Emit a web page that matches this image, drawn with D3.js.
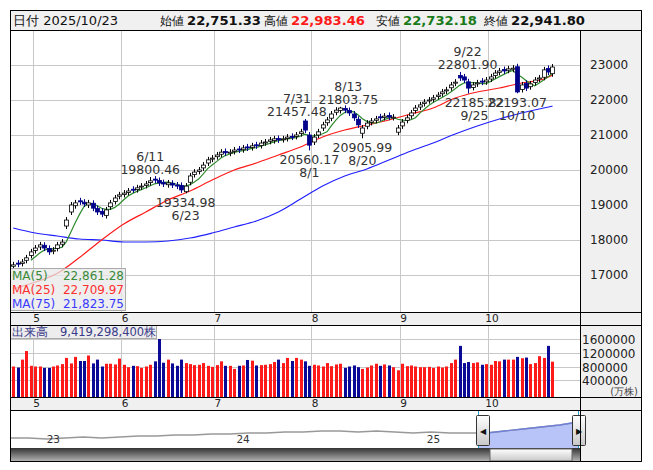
<!DOCTYPE html>
<html><head><meta charset="utf-8">
<script src="https://cdn.jsdelivr.net/npm/d3@7"></script>
<style>body{margin:0;background:#fff}svg{display:block;font-family:"DejaVu Sans",sans-serif}</style>
</head><body><div id="chart"></div>
<script>
const W = 653, H = 470;

// trading-day calendar (categories)
const holidays = ["2025-04-29","2025-05-05","2025-05-06","2025-07-21","2025-08-11","2025-09-15","2025-09-23","2025-10-13"];
const dates = d3.timeDay.range(new Date(2025, 3, 24), new Date(2025, 9, 24))
  .filter(d => d.getDay() !== 0 && d.getDay() !== 6 && !holidays.includes(d3.timeFormat("%Y-%m-%d")(d)));

const closes = [17290,17310,17370,17490,17660,17770,17860,17770,17660,17710,17860,17940,18570,19000,19060,19090,19030,19060,18910,18800,18740,18860,19060,19200,
19290,19340,19400,19430,19490,19540,19600,19690,19710,19630,19600,19630,19570,19540,19430,19540,19830,19940,20000,20140,20290,
20340,20430,20510,20490,20510,20570,20570,20630,20630,20690,20690,20770,20800,20860,20890,20860,20890,20940,20940,21000,21090,21140,
20710,20940,21090,21290,21430,21600,21710,21770,21710,21630,21490,21290,21200,21340,21400,21460,21490,21540,21510,21510,
21200,21370,21490,21630,21770,21860,21940,22000,22060,22140,22230,22290,22430,22510,22630,22570,22340,22430,22490,22510,
22570,22660,22770,22830,22830,22890,22910,22230,22430,22340,22460,22570,22630,22860,22800,22941.8];
const opens = [17250,17340,17330,17420,17560,17700,17800,17850,17760,17680,17760,17880,18400,18800,18980,19120,19080,19000,19050,18900,18820,18700,18950,19100,
19250,19300,19360,19450,19440,19520,19560,19640,19740,19700,19640,19580,19620,19570,19560,19380,19650,19870,19960,20060,20200,
20310,20380,20450,20530,20480,20530,20600,20580,20660,20640,20720,20700,20780,20820,20840,20900,20870,20900,20960,20960,21040,21400,
21000,20800,21000,21200,21350,21480,21650,21700,21760,21700,21600,21450,21050,21250,21360,21420,21520,21500,21560,21500,
21080,21260,21420,21550,21700,21800,21900,21980,22020,22100,22180,22260,22350,22480,22700,22660,22520,22360,22460,22540,
22520,22600,22700,22790,22870,22850,22880,22950,22300,22480,22380,22500,22600,22650,22900,22751.33];
const volumes = [800,770,1000,1250,820,800,800,760,760,800, 830,870,1050,890,1080,960,960,1120,890,1000,
800,880,880,860,1030,850,780,820,810,760, 800,850,950,1600,910,1000,890,820,1000,900,
870,840,850,900,820,790,840,950,820,820, 730,820,830,990,970,830,840,850,870,930,
1000,900,1050,960,1050,1000,950,820,850,830, 800,900,810,860,880,760,800,830,780,730,
770,830,880,820,860,830,780,690,880,810, 830,800,780,780,790,760,800,770,800,900,
1000,1400,900,930,900,920,850,870,850,960, 950,1000,1000,1000,1080,1040,1060,870,900,1100,
1050,1400,940].map(v => v * 1000);

// moving averages read every 5 trading days
const maIdx = [0,5,10,15,20,25,30,35,40,45,50,55,60,65,70,75,80,85,90,95,100,105,110,115,120,122];
const ma25 = [16600,16800,17050,17500,18000,18457,18800,19143,19400,19714,20000,20200,20429,20657,20943,21143,21286,21429,21600,21771,22057,22229,22343,22486,22600,22710];
const ma75 = [18343,18200,18114,18029,18000,17943,17943,17971,18057,18200,18371,18543,18800,19171,19543,19829,20029,20286,20543,20771,21029,21257,21457,21629,21771,21823];

const annotations = [
  {i:31, v:19800.46, d:"6/11", hi:true},
  {i:39, v:19334.98, d:"6/23", hi:false},
  {i:66, v:21457.48, d:"7/31", hi:true, dx:-8},
  {i:67, v:20560.17, d:"8/1", hi:false},
  {i:74, v:21803.75, d:"8/13", hi:true, dx:8},
  {i:79, v:20905.99, d:"8/20", hi:false},
  {i:101, v:22801.90, d:"9/22", hi:true, dx:8},
  {i:103, v:22185.82, d:"9/25", hi:false, dx:6},
  {i:114, v:22193.07, d:"10/10", hi:false}
];
const priceTicks = [17000,18000,19000,20000,21000,22000,23000];
const volTicks = [400000,800000,1200000,1600000];
const navValues = [17200,17200,16900,17200,17500,17200,17500,17800,17800,18100,18100,18400,18400,18700,18700,19000,19000,19300,19300,19000,19300,19000,18700,19000,18700,18700,18700,19300,19900,20500,21100,22000];
const navYears = [{t:"23", x:0.076},{t:"24", x:0.409},{t:"25", x:0.743}];
const header = {date:"2025/10/23", open:"22,751.33", high:"22,983.46", low:"22,732.18", close:"22,941.80"};
const ma5Last = "22,861.28", ma25Last = "22,709.97", ma75Last = "21,823.75";
const volTotal = "9,419,298,400株";

const L = 10, R = 642, PR = 580;
const svg = d3.select("#chart").append("svg").attr("width", W).attr("height", H);

const x = d3.scaleBand().domain(d3.range(dates.length)).range([11, 11 + dates.length * 4.42]);
const xc = i => x(i) + x.bandwidth() / 2;
const y = d3.scaleLinear().domain([17000, 23000]).range([275, 65]);
const yv = d3.scaleLinear().domain([0, 1600000]).range([394, 339]);

// panels
svg.append("rect").attr("x", L).attr("y", 10).attr("width", R - L).attr("height", 452).attr("fill", "#fff");
svg.append("rect").attr("x", L).attr("y", 10).attr("width", R - L).attr("height", 20).attr("fill", "#f0f0f0");
svg.append("rect").attr("x", PR).attr("y", 30).attr("width", R - PR).attr("height", 432).attr("fill", "#f0f0f0");
[[312,13],[397,13]].forEach(([yy,h]) => svg.append("rect").attr("x", L).attr("y", yy).attr("width", PR - L).attr("height", h).attr("fill", "#f0f0f0"));

const monthStarts = dates.map((d, i) => i).filter(i => i > 0 && dates[i].getMonth() !== dates[i - 1].getMonth());

// grid
const grid = svg.append("g").attr("stroke", "#c8c8c8").attr("stroke-width", 1);
priceTicks.forEach(t => grid.append("line").attr("x1", L).attr("x2", PR).attr("y1", y(t) + .5).attr("y2", y(t) + .5));
volTicks.forEach(t => grid.append("line").attr("x1", L).attr("x2", PR).attr("y1", Math.round(yv(t)) + .5).attr("y2", Math.round(yv(t)) + .5));
monthStarts.forEach(i => {
  const gx = Math.round(x(i)) + 4.5;
  grid.append("line").attr("x1", gx).attr("x2", gx).attr("y1", 30).attr("y2", 312);
  grid.append("line").attr("x1", gx).attr("x2", gx).attr("y1", 325).attr("y2", 397);
});

// month labels
[322, 407].forEach(yy => svg.append("g").selectAll("text").data(monthStarts).join("text")
  .attr("x", i => x(i) + 8).attr("y", yy).attr("text-anchor", "middle")
  .attr("font-size", 10.5).attr("fill", "#222").text(i => dates[i].getMonth() + 1));

// moving averages
const ma5 = closes.map((c, i) => i < 4 ? null : d3.mean(closes.slice(i - 4, i + 1)));
const line = d3.line().curve(d3.curveMonotoneX);
svg.append("path").attr("fill", "none").attr("stroke", "#2020ff").attr("stroke-width", 1.2)
  .attr("d", line(maIdx.map((i, k) => [xc(i), y(ma75[k])])));
svg.append("path").attr("fill", "none").attr("stroke", "#ff1a1a").attr("stroke-width", 1.2)
  .attr("d", line(maIdx.map((i, k) => [xc(i), y(ma25[k])])));
svg.append("path").attr("fill", "none").attr("stroke", "#2e8b2e").attr("stroke-width", 1.2)
  .attr("d", d3.line()(ma5.map((v, i) => [xc(i), v]).filter(p => p[1] !== null).map(p => [p[0], y(p[1])])));

// candles
const ext = {};
annotations.forEach(a => ext[a.i] = a);
const cg = svg.append("g").selectAll("g").data(closes.map((c, i) => ({i, o: opens[i], c})))
  .join("g");
cg.append("line")
  .attr("x1", d => Math.round(xc(d.i)) + .5).attr("x2", d => Math.round(xc(d.i)) + .5)
  .attr("y1", d => ext[d.i] && ext[d.i].hi ? y(ext[d.i].v) : y(Math.max(d.o, d.c)) - 3)
  .attr("y2", d => ext[d.i] && !ext[d.i].hi ? y(ext[d.i].v) : y(Math.min(d.o, d.c)) + 3)
  .attr("stroke", d => d.c >= d.o ? "#000" : "#00008b");
cg.append("rect")
  .attr("x", d => Math.round(xc(d.i)) - 1.5).attr("width", 4)
  .attr("y", d => y(Math.max(d.o, d.c)))
  .attr("height", d => Math.max(1, Math.abs(y(d.o) - y(d.c))))
  .attr("fill", d => d.c >= d.o ? "#fff" : "#00008b")
  .attr("stroke", d => d.c >= d.o ? "#000" : "#00008b").attr("stroke-width", 0.8);

// annotations
const ag = svg.append("g").attr("font-size", 12.5).attr("fill", "#333").attr("text-anchor", "middle");
annotations.forEach(a => {
  const ax = xc(a.i) + (a.dx || 0), ay = y(a.v);
  if (a.hi) {
    ag.append("text").attr("x", ax).attr("y", ay - 3).text(a.v.toFixed(2));
    ag.append("text").attr("x", ax).attr("y", ay - 16).text(a.d);
  } else {
    ag.append("text").attr("x", ax).attr("y", ay + 14).text(a.v.toFixed(2));
    ag.append("text").attr("x", ax).attr("y", ay + 27).text(a.d);
  }
});

// legend
svg.append("rect").attr("x", L + .5).attr("y", 268.5).attr("width", 115).attr("height", 42)
  .attr("fill", "#e8e8e8").attr("fill-opacity", 0.75).attr("stroke", "#aaa");
[["MA(5)", ma5Last, "#3a8a3a"], ["MA(25)", ma25Last, "#ff3030"], ["MA(75)", ma75Last, "#3a3aff"]].forEach(([n, v, c], k) => {
  svg.append("text").attr("x", 12).attr("y", 280 + k * 14).attr("font-size", 12).attr("fill", c).text(n);
  svg.append("text").attr("x", 124).attr("y", 280 + k * 14).attr("font-size", 12).attr("fill", c).attr("text-anchor", "end").text(v);
});

// price axis labels
svg.append("g").selectAll("text").data(priceTicks).join("text")
  .attr("x", 590).attr("y", d => y(d) + 4).attr("font-size", 12).attr("fill", "#222").text(d => d);

// volume bars
svg.append("g").selectAll("rect").data(volumes).join("rect")
  .attr("x", (d, i) => Math.round(xc(i)) - 1).attr("width", 3)
  .attr("y", d => yv(d)).attr("height", d => 397 - yv(d))
  .attr("fill", (d, i) => closes[i] >= opens[i] ? "#ff1a1a" : "#0a0a96");
svg.append("g").selectAll("text").data(volTicks).join("text")
  .attr("x", 582).attr("y", d => yv(d) + 5).attr("font-size", 12).attr("fill", "#222").text(d => d);
svg.append("text").attr("x", 638).attr("y", 395).attr("text-anchor", "end").attr("font-size", 10).attr("fill", "#444").text("(万株)");
svg.append("rect").attr("x", L + .5).attr("y", 325.5).attr("width", 146).attr("height", 13)
  .attr("fill", "#e8e8e8").attr("fill-opacity", 0.8).attr("stroke", "#aaa");
svg.append("text").attr("x", 12).attr("y", 336).attr("font-size", 11.5).attr("fill", "#3a3a8a")
  .text("出来高　" + volTotal);

// navigator
const nx = d3.scaleLinear().domain([0, navValues.length - 1]).range([L, 578]);
const ny = d3.scaleLinear().domain([13000, 25000]).range([452, 412]);
const selX0 = 478, selX1 = 578;
svg.append("clipPath").attr("id", "sel").append("rect").attr("x", selX0).attr("y", 410).attr("width", selX1 - selX0).attr("height", 40);
svg.append("path").attr("clip-path", "url(#sel)").attr("fill", "#b8c4f8")
  .attr("d", d3.area().x((d, i) => nx(i)).y0(448).y1(d => ny(d))(navValues));
svg.append("path").attr("fill", "none").attr("stroke", "#999").attr("stroke-width", 1.3)
  .attr("d", d3.line().x((d, i) => nx(i)).y(d => ny(d))(navValues));
svg.append("path").attr("clip-path", "url(#sel)").attr("fill", "none").attr("stroke", "#7080d8").attr("stroke-width", 1.3)
  .attr("d", d3.line().x((d, i) => nx(i)).y(d => ny(d))(navValues));
navYears.forEach(n => svg.append("text").attr("x", L + n.x * (PR - L)).attr("y", 443).attr("text-anchor", "middle")
  .attr("font-size", 10.5).attr("fill", "#333").text(n.t));
[selX0, selX1].forEach(sx => svg.append("line").attr("x1", sx + .5).attr("x2", sx + .5).attr("y1", 410).attr("y2", 448).attr("stroke", "#2aa0d0"));

// scrollbar
const sg = svg.append("defs");
const g1 = sg.append("linearGradient").attr("id", "bar").attr("x1", 0).attr("y1", 0).attr("x2", 0).attr("y2", 1);
g1.append("stop").attr("offset", 0).attr("stop-color", "#333");
g1.append("stop").attr("offset", 1).attr("stop-color", "#bbb");
const g2 = sg.append("linearGradient").attr("id", "thumb").attr("x1", 0).attr("y1", 0).attr("x2", 0).attr("y2", 1);
g2.append("stop").attr("offset", 0).attr("stop-color", "#fff");
g2.append("stop").attr("offset", 1).attr("stop-color", "#c8c8c8");
svg.append("rect").attr("x", L).attr("y", 448).attr("width", PR - L).attr("height", 14).attr("fill", "url(#bar)");
svg.append("rect").attr("x", 490).attr("y", 449).attr("width", 82).attr("height", 12).attr("fill", "url(#thumb)").attr("stroke", "#666");
[[476, "◀"], [572, "▶"]].forEach(([hx, s]) => {
  svg.append("rect").attr("x", hx + .5).attr("y", 415.5).attr("width", 13).attr("height", 30).attr("rx", 1)
    .attr("fill", "url(#thumb)").attr("stroke", "#333");
  svg.append("text").attr("x", hx + 7).attr("y", 434).attr("text-anchor", "middle").attr("font-size", 8).attr("fill", "#111").text(s);
});

// borders
const bd = svg.append("g").attr("stroke", "#000").attr("stroke-width", 1).attr("fill", "none");
bd.append("rect").attr("x", L + .5).attr("y", 10.5).attr("width", R - L - 1).attr("height", 451);
[30, 312, 325, 397, 410].forEach(yy => bd.append("line").attr("x1", L).attr("x2", R).attr("y1", yy + .5).attr("y2", yy + .5));
bd.append("line").attr("x1", PR + .5).attr("x2", PR + .5).attr("y1", 30).attr("y2", 462);

// header
const ht = svg.append("text").attr("y", 25).attr("font-size", 13).attr("fill", "#111");
ht.append("tspan").attr("x", 13).text("日付 " + header.date);
const hv = [["始値", header.open, "#111", 160], ["高値", header.high, "#ff1a1a", 264], ["安値", header.low, "#1a7a1a", 376], ["終値", header.close, "#111", 484]];
hv.forEach(([k, v, c, hx]) => {
  svg.append("text").attr("x", hx).attr("y", 25).attr("font-size", 11.5).attr("fill", "#111").text(k);
  svg.append("text").attr("x", hx + 27).attr("y", 25).attr("font-size", 13).attr("font-weight", "bold")
    .attr("fill", c).attr("textLength", 74).attr("lengthAdjust", "spacingAndGlyphs").text(v);
});
</script></body></html>
